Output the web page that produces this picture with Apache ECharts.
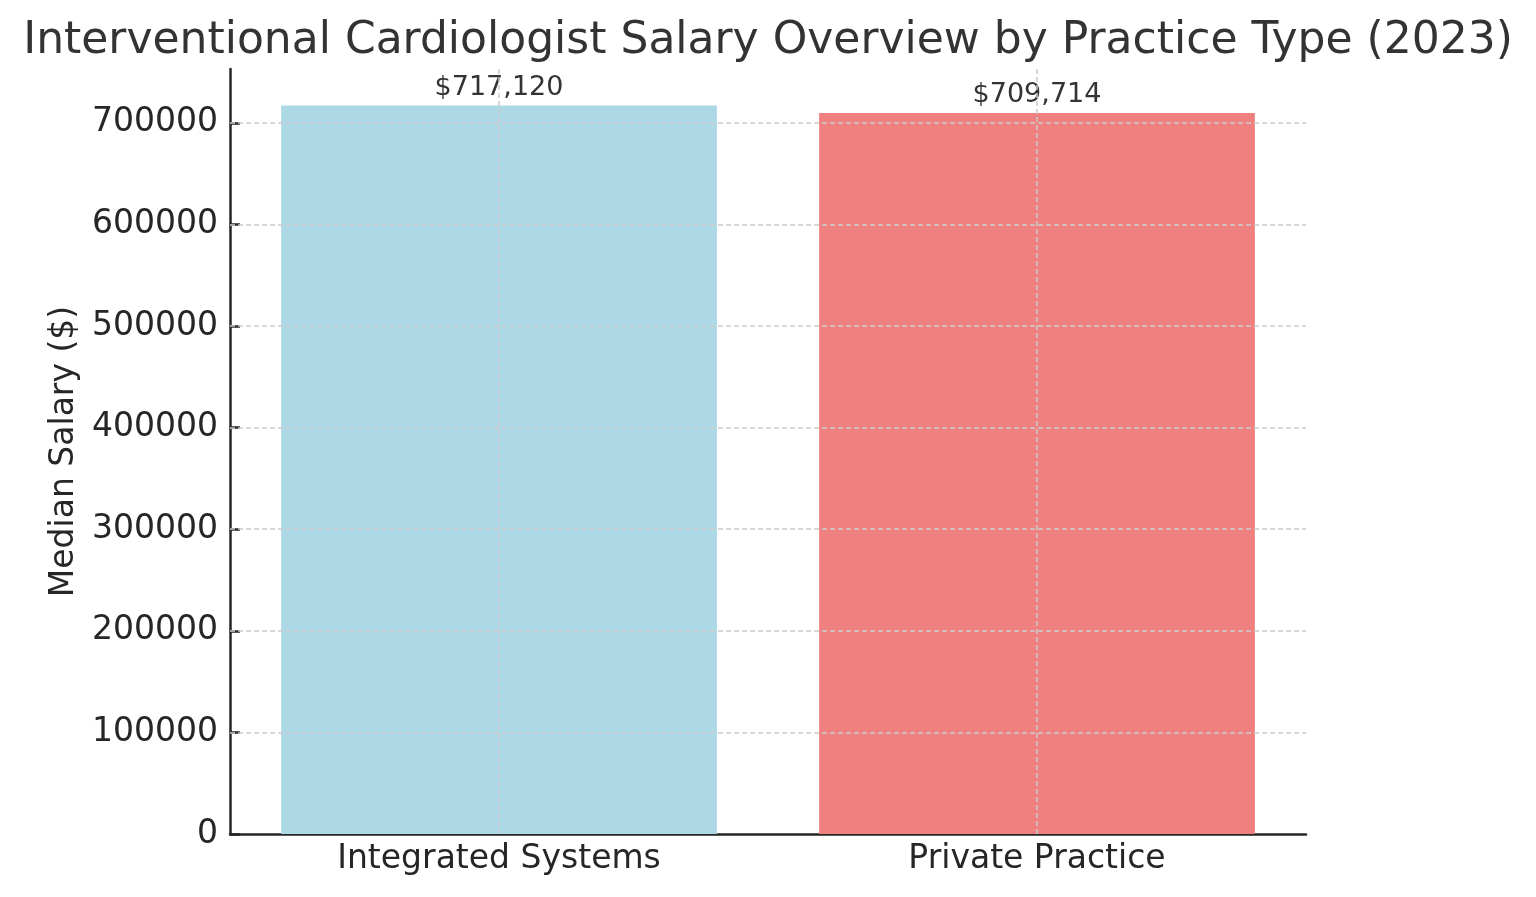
<!DOCTYPE html>
<html>
<head>
<meta charset="utf-8">
<script src="https://cdn.jsdelivr.net/npm/echarts@6/dist/echarts.min.js"></script>
<style>
  html, body { margin: 0; padding: 0; background: #fff; }
  #main { width: 1536px; height: 897px; }
</style>
</head>
<body>
<div id="main"></div>
<script>
// data
var categories = ['Integrated Systems', 'Private Practice'];
var salaries = [717120, 709714];
var barColors = ['#ADD8E6', '#F08080'];
var yTicks = [0, 100000, 200000, 300000, 400000, 500000, 600000, 700000];

var font = 'DejaVu Sans';
var gridColor = '#cccccc';
var inkColor = '#262626';

// bars with their own colour
var barData = salaries.map(function (v, i) {
  return { value: v, itemStyle: { color: barColors[i] } };
});

// grid lines drawn on top of the bars, like the original
var gridLines = [];
yTicks.forEach(function (t) {
  if (t > 0) gridLines.push({ yAxis: t });
});
categories.forEach(function (c) {
  gridLines.push({ xAxis: c });
});

var chart = echarts.init(document.getElementById('main'));
chart.setOption({
  backgroundColor: '#fff',
  animation: false,
  textStyle: { fontFamily: font },
  title: {
    text: 'Interventional Cardiologist Salary Overview by Practice Type (2023)',
    left: 'center',
    top: 15,
    textStyle: { fontFamily: font, fontSize: 44, fontWeight: 'normal', color: '#333' }
  },
  grid: { left: 230, right: 230, top: 69, bottom: 63 },
  xAxis: {
    type: 'category',
    data: categories,
    axisLine: { show: true, lineStyle: { color: inkColor, width: 2.5 } },
    axisTick: { show: true, inside: true, alignWithLabel: true, length: 10, lineStyle: { color: inkColor, width: 2.5 } },
    axisLabel: { fontFamily: font, fontSize: 33, color: inkColor, margin: 9 },
    splitLine: { show: false }
  },
  yAxis: {
    type: 'value',
    min: 0,
    max: salaries[0] * 1.05,
    interval: 100000,
    name: 'Median Salary ($)',
    nameLocation: 'middle',
    nameGap: 148,
    nameTextStyle: { fontFamily: font, fontSize: 33, color: inkColor },
    axisLine: { show: true, lineStyle: { color: inkColor, width: 2.5 } },
    axisTick: { show: true, inside: true, length: 10, customValues: yTicks, lineStyle: { color: inkColor, width: 2.5 } },
    axisLabel: {
      fontFamily: font, fontSize: 33, color: inkColor, margin: 12, customValues: yTicks,
      formatter: function (v) { return String(v); }
    },
    splitLine: { show: false }
  },
  series: [{
    type: 'bar',
    data: barData,
    barWidth: '81%',
    label: {
      show: true,
      position: 'top',
      distance: 4,
      fontFamily: font,
      fontSize: 27,
      color: '#333',
      formatter: function (p) { return '$' + p.value.toLocaleString('en-US'); }
    },
    markLine: {
      silent: true,
      symbol: 'none',
      label: { show: false },
      lineStyle: { color: gridColor, type: [5, 3], width: 1.5 },
      data: gridLines
    }
  }]
});
</script>
</body>
</html>
